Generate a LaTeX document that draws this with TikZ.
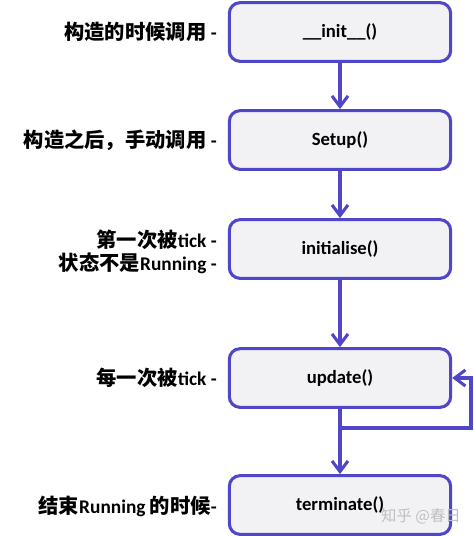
\documentclass[tikz,border=0pt]{standalone}
\usepackage{fontspec}
\setmainfont{Carlito}
\newfontfamily\cjk[Scale=1.05]{Noto Sans CJK SC}
\usetikzlibrary{arrows.meta}

\definecolor{flowblue}{RGB}{80,70,200}
\definecolor{boxgray}{RGB}{242,242,245}
\newcommand{\zh}[1]{{\cjk #1}}

\tikzset{
  stepbox/.style={draw=flowblue, fill=boxgray, line width=2.3pt, rounded corners=8pt,
    minimum width=166pt, minimum height=44pt, inner sep=0pt,
    font=\fontsize{14}{17}\selectfont\bfseries},
  note/.style={anchor=east, align=right, inner sep=0pt,
    font=\fontsize{14.5}{17.5}\selectfont\bfseries},
  flow/.style={draw=flowblue, line width=2.3pt, -{Straight Barb[length=8pt,width=12pt,line width=2.3pt]}}
}

\begin{document}
\begin{tikzpicture}[x=0.75pt,y=-0.75pt]
    \useasboundingbox (0,0) rectangle (474,537);

    % the five calls
    \node[stepbox] (init) at (340,32) {\_\_init\_\_()};
    \node[stepbox] (setup) at (340,140) {Setup()};
    \node[stepbox] (initialise) at (340,249) {initialise()};
    \node[stepbox] (update) at (340,378) {update()};
    \node[stepbox] (terminate) at (340,505) {terminate()};

    % when each one is called
    \node[note] (initnote) at (217,32) {\zh{构造的时候调用} -};
    \node[note] (setupnote) at (217,140) {\zh{构造之后，手动调用} -};
    \node[note] (initialisenote) at (217,252) {\zh{第一次被}tick -\\[-0.5pt]\zh{状态不是}Running -};
    \node[note] (updatenote) at (217,378) {\zh{每一次被}tick -};
    \node[note] (terminatenote) at (217,506) {\zh{结束}Running \zh{的时候}-};

    \draw[flow] (init) -- (setup);
    \draw[flow] (setup) -- (initialise);
    \draw[flow] (initialise) -- (update);
    \draw[flow] (update) -- (terminate);

    % tick loop back into update
    \coordinate (loop) at (471,428);
    \draw[flow] (update.south |- loop) -- (loop) |- (update.east);

    \node[text=black!25, font=\fontsize{11}{13}\selectfont\cjk] (mark) at (421,516) {知乎 @春日};
\end{tikzpicture}
\end{document}
